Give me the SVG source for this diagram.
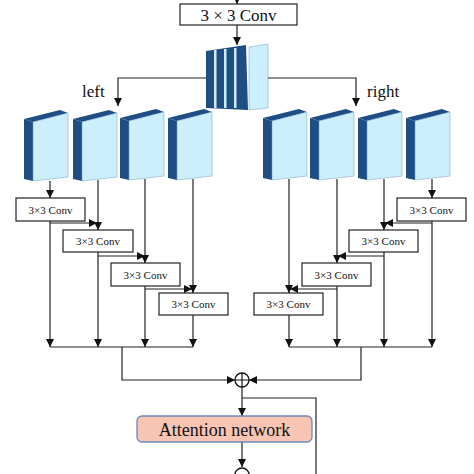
<svg xmlns="http://www.w3.org/2000/svg" xmlns:xlink="http://www.w3.org/1999/xlink" width="474" height="474" viewBox="0 0 474 474">
<style>
.ln{fill:none;stroke:#222;stroke-width:1.2}
.arr{marker-end:url(#ah)}
.box{fill:#fff;stroke:#222;stroke-width:1.2}
.t{font-family:"Liberation Serif","Times New Roman",serif;fill:#111}
.s{font-size:11px}
.dk{fill:#1f4e85}
.lt{fill:#cdeefc;stroke:#6f9cc4;stroke-width:0.5}
</style>
<defs>
<marker id="ah" viewBox="0 0 8 8" refX="8" refY="4" markerWidth="8" markerHeight="8" markerUnits="userSpaceOnUse" orient="auto">
<path d="M0,0 L8,4 L0,8 z" fill="#111"/>
</marker>
<g id="panel">
<polygon class="dk" points="0,7 36,-2 44,1 9,10"/>
<polygon class="dk" points="0,7 9,10 9,69 0,67"/>
<polygon class="lt" points="9,10 44,1 44,65 9,69"/>
</g>
</defs>
<rect width="474" height="474" fill="#fff"/>

<g id="top-conv">
<rect class="box" x="180" y="4" width="117" height="21"/>
<text class="t" x="238.5" y="21" font-size="17" text-anchor="middle">3 × 3 Conv</text>
</g>

<g id="stack">
<polygon class="dk" points="206,51 246,45 248,110 206,108"/>
<rect x="214" y="50" width="2.5" height="58" fill="#cdeefc"/>
<rect x="224" y="49" width="2.5" height="59" fill="#cdeefc"/>
<rect x="234" y="48" width="2.5" height="60" fill="#cdeefc"/>
<polygon class="lt" points="249,47 268,44 268,108 249,110"/>
</g>

<g id="left-panels">
<use xlink:href="#panel" x="24" y="112"/>
<use xlink:href="#panel" x="73" y="112"/>
<use xlink:href="#panel" x="120" y="111"/>
<use xlink:href="#panel" x="168" y="111"/>
</g>
<g id="right-panels">
<use xlink:href="#panel" x="263" y="111"/>
<use xlink:href="#panel" x="310" y="111"/>
<use xlink:href="#panel" x="358" y="111"/>
<use xlink:href="#panel" x="406" y="111"/>
</g>

<g id="labels">
<text class="t" x="82" y="97" font-size="17">left</text>
<text class="t" x="367" y="97" font-size="17">right</text>
</g>

<g id="conv-left">
<rect class="box" x="16" y="198" width="69" height="23"/>
<text class="t s" x="50.5" y="213.5" text-anchor="middle">3×3 Conv</text>
<rect class="box" x="63" y="230" width="70" height="22"/>
<text class="t s" x="98" y="245" text-anchor="middle">3×3 Conv</text>
<rect class="box" x="111" y="263" width="69" height="23"/>
<text class="t s" x="145.5" y="278.5" text-anchor="middle">3×3 Conv</text>
<rect class="box" x="159" y="293" width="69" height="22"/>
<text class="t s" x="193.5" y="308" text-anchor="middle">3×3 Conv</text>
</g>
<g id="conv-right">
<rect class="box" x="397" y="198" width="69" height="23"/>
<text class="t s" x="431.5" y="213.5" text-anchor="middle">3×3 Conv</text>
<rect class="box" x="349" y="230" width="69" height="22"/>
<text class="t s" x="383.5" y="245" text-anchor="middle">3×3 Conv</text>
<rect class="box" x="302" y="263" width="69" height="23"/>
<text class="t s" x="336.5" y="278.5" text-anchor="middle">3×3 Conv</text>
<rect class="box" x="254" y="293" width="69" height="22"/>
<text class="t s" x="288.5" y="308" text-anchor="middle">3×3 Conv</text>
</g>

<g id="connectors">
<path class="ln arr" d="M237,-2 V4"/>
<path class="ln arr" d="M237,25 V45"/>
<path class="ln arr" d="M206,78 H118 V106"/>
<path class="ln arr" d="M268,78 H356 V106"/>
<!-- left -->
<path class="ln arr" d="M50,181 V198"/>
<path class="ln arr" d="M50,221 V347"/>
<path class="ln arr" d="M50,223 H97"/>
<path class="ln arr" d="M98,180 V230"/>
<path class="ln arr" d="M98,252 V347"/>
<path class="ln arr" d="M98,256 H145"/>
<path class="ln arr" d="M145,179 V263"/>
<path class="ln arr" d="M145,286 V347"/>
<path class="ln arr" d="M145,289 H192"/>
<path class="ln arr" d="M193,179 V293"/>
<path class="ln arr" d="M193,315 V347"/>
<path class="ln" d="M50,347 H193"/>
<path class="ln arr" d="M122,347 V380 H235"/>
<!-- right -->
<path class="ln arr" d="M432,179 V198"/>
<path class="ln arr" d="M432,221 V347"/>
<path class="ln arr" d="M432,223 H385"/>
<path class="ln arr" d="M384,179 V230"/>
<path class="ln arr" d="M384,252 V347"/>
<path class="ln arr" d="M384,256 H338"/>
<path class="ln arr" d="M337,179 V263"/>
<path class="ln arr" d="M337,286 V347"/>
<path class="ln arr" d="M337,289 H290"/>
<path class="ln arr" d="M289,179 V293"/>
<path class="ln arr" d="M289,315 V347"/>
<path class="ln" d="M289,347 H432"/>
<path class="ln arr" d="M361,347 V380 H249"/>
<!-- bottom -->
<path class="ln arr" d="M242,387 V416"/>
<path class="ln" d="M242,398 H316 V474"/>
<path class="ln arr" d="M242,442 V467"/>
</g>

<g id="sum">
<circle cx="242" cy="380" r="7" fill="#fff" stroke="#111" stroke-width="1.3"/>
<path d="M235,380 H249 M242,373 V387" stroke="#111" stroke-width="1.2"/>
</g>

<g id="attention">
<rect x="137" y="416" width="175" height="26" rx="5" fill="#f8c4b4" stroke="#6a8bb5" stroke-width="1.3"/>
<text class="t" x="224.5" y="436" font-size="18" text-anchor="middle">Attention network</text>
</g>

<g id="bottom-op">
<circle cx="242" cy="475" r="7" fill="#fff" stroke="#111" stroke-width="1.3"/>
</g>
</svg>
